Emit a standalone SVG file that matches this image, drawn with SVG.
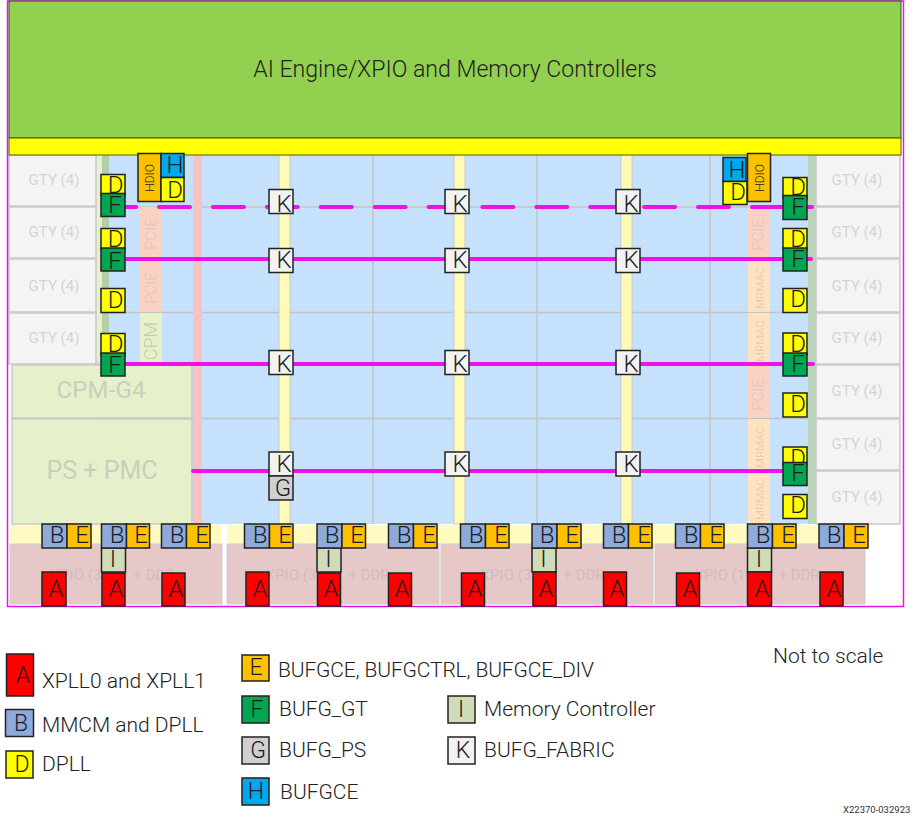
<svg xmlns="http://www.w3.org/2000/svg" width="923" height="822" viewBox="0 0 923 822">
<style>
text{font-family:Roboto,"Liberation Sans",sans-serif}
.n{stroke:#222;stroke-width:1.5}
.l{font-size:24px;font-weight:300;fill:#1c1c1c;text-anchor:middle}
.m{font-size:23px;font-weight:300;fill:#1c1c1c;text-anchor:middle}
.lg{font-size:21px;font-weight:300;fill:#222}
.a{fill:#f00}.b{fill:#8eaadb}.d{fill:#ff0}.e{fill:#ffc000}.f{fill:#00a651}.g{fill:#d0d0d0}.h{fill:#00a8f0}.i{fill:#d0dcb8}.k{fill:#f2f2f2}
.gty{fill:#f4f4f4;stroke:#c9c9c9;stroke-width:1.5}
.gt{font-size:15px;fill:#d4d4d4;text-anchor:middle}
.wire{stroke:#f010e8;stroke-width:4;fill:none;stroke-linecap:round}
.col{fill:#fffbb5;stroke:#c9c9c9}
.pc{fill:#e3c4b8;font-size:15px;text-anchor:middle;font-weight:300}
.mr{fill:#dfcaaa;font-size:11.500px;text-anchor:middle;font-weight:300}
.hd{font-size:12px;font-weight:300;fill:#222;text-anchor:middle}
.xp{font-size:15px;fill:#d6baba;text-anchor:middle}
</style>
<rect width="923" height="822" fill="#fff"/>
<g id="fabric">
<rect x="96" y="155" width="720" height="369" fill="#c5e1fb"/>
<g stroke="#c3c3c3" stroke-width="1.500" fill="none">
<path d="M96 207H816M96 259H816M96 312.500H816M96 364.500H816M192 418.500H816M192 470.500H816"/>
<path d="M373 155V524M537 155V524M710 155V524"/>
</g>
<rect class="col" x="279" y="155" width="11" height="369"/>
<rect class="col" x="454" y="155" width="11" height="369"/>
<rect class="col" x="621" y="155" width="11" height="369"/>
<rect x="193" y="155" width="9" height="369" fill="#f7c2c2"/>
<rect x="96" y="155" width="6" height="206" fill="#e6f1cb"/>
<rect x="102" y="155" width="7" height="206" fill="#b5ceaa"/>
<rect x="808" y="155" width="8" height="369" fill="#bcd4bc"/>
<rect x="140" y="207" width="22" height="52" fill="#fad2c4"/>
<rect x="140" y="260" width="22" height="52" fill="#fad2c4"/>
<rect x="140" y="313" width="22" height="52" fill="#e6f1cb"/>
<rect x="748" y="207" width="22" height="52" fill="#fad2c4"/>
<rect x="748" y="260" width="22" height="52" fill="#fde3c0"/>
<rect x="748" y="313" width="22" height="51" fill="#fde3c0"/>
<rect x="748" y="365" width="22" height="53" fill="#fad2c4"/>
<rect x="748" y="419" width="22" height="51" fill="#fde3c0"/>
<rect x="748" y="471" width="22" height="53" fill="#fde3c0"/>
<text class="pc" transform="translate(156 234) rotate(-90)">PCIE</text>
<text class="pc" transform="translate(156 288) rotate(-90)">PCIE</text>
<text class="pc" transform="translate(157 341) rotate(-90)" style="font-size:18px;fill:#c2cfa8">CPM</text>
<text class="pc" transform="translate(763 235) rotate(-90)">PCIE</text>
<text class="mr" transform="translate(764 288) rotate(-90)">MRMAC</text>
<text class="mr" transform="translate(764 341) rotate(-90)">MRMAC</text>
<text class="pc" transform="translate(763 395) rotate(-90)">PCIE</text>
<text class="mr" transform="translate(764 447) rotate(-90)">MRMAC</text>
<text class="mr" transform="translate(764 499) rotate(-90)">MRMAC</text>
</g>
<g id="gty-left">
<rect class="gty" x="9" y="155" width="87" height="51"/><text class="gt" x="54" y="185">GTY (4)</text>
<rect class="gty" x="9" y="207" width="87" height="51"/><text class="gt" x="54" y="237">GTY (4)</text>
<rect class="gty" x="9" y="259" width="87" height="53"/><text class="gt" x="54" y="291">GTY (4)</text>
<rect class="gty" x="9" y="313" width="87" height="51"/><text class="gt" x="54" y="343">GTY (4)</text>
</g>
<g id="gty-right">
<rect class="gty" x="816" y="155" width="84" height="51"/><text class="gt" x="857" y="185">GTY (4)</text>
<rect class="gty" x="816" y="207" width="84" height="51"/><text class="gt" x="857" y="237">GTY (4)</text>
<rect class="gty" x="816" y="259" width="84" height="53"/><text class="gt" x="857" y="291">GTY (4)</text>
<rect class="gty" x="816" y="313" width="84" height="51"/><text class="gt" x="857" y="343">GTY (4)</text>
<rect class="gty" x="816" y="365" width="84" height="53"/><text class="gt" x="857" y="396">GTY (4)</text>
<rect class="gty" x="816" y="419" width="84" height="51"/><text class="gt" x="857" y="449">GTY (4)</text>
<rect class="gty" x="816" y="471" width="84" height="53"/><text class="gt" x="857" y="502">GTY (4)</text>
</g>
<g id="ps">
<rect x="12" y="365" width="180" height="53" fill="#e6f1cb" stroke="#c9c9c9" stroke-width="1.500"/>
<rect x="12" y="419" width="180" height="105" fill="#e6f1cb" stroke="#c9c9c9" stroke-width="1.500"/>
<text x="101" y="398" font-size="24" fill="#c9cfbd" text-anchor="middle" textLength="89">CPM-G4</text>
<text x="102" y="479" font-size="25" fill="#c9cfbd" text-anchor="middle" textLength="111">PS + PMC</text>
</g>
<g id="xpio">
<rect x="10" y="525" width="211" height="19" fill="#fffbc0"/>
<rect x="227" y="525" width="598" height="19" fill="#fffbc0"/>
<g fill="#e6c8c8" stroke="#d0d0d0">
<rect x="10" y="544" width="212" height="60"/>
<rect x="227" y="544" width="212" height="60"/>
<rect x="441" y="544" width="212" height="60"/>
<rect x="655" y="544" width="210" height="60"/>
</g>
<text class="xp" x="76" y="580">XPIO (3</text><text class="xp" x="154" y="580">+ DDR</text>
<text class="xp" x="291" y="580">XPIO (3</text><text class="xp" x="369" y="580">+ DDR</text>
<text class="xp" x="506" y="580">XPIO (3</text><text class="xp" x="584" y="580">+ DDR</text>
<text class="xp" x="720" y="580">XPIO (1</text><text class="xp" x="799" y="580">+ DDR</text>
</g>
<g id="frame">
<rect x="7.500" y="1" width="896" height="605.500" fill="none" stroke="#f010e8" stroke-width="1.500"/>
<rect x="9" y="1" width="892" height="137" fill="#92d050" stroke="#3a4a20" stroke-width="1"/>
<rect x="9" y="138" width="892" height="17" fill="#ff0" stroke="#5a5a10" stroke-width="1"/>
<text x="455" y="77" font-size="23.100" font-weight="300" fill="#222" text-anchor="middle">AI Engine/XPIO and Memory Controllers</text>
</g>
<g id="connectors">
<path class="wire" d="M125 207H812" stroke-dasharray="31 22.900" stroke-dashoffset="19.900"/>
<path class="wire" d="M125 259H811"/>
<path class="wire" d="M125 364H813"/>
<path class="wire" d="M193 471H790"/>
</g>
<g id="hdio-left">
<rect class="n e" x="138" y="153.500" width="23" height="48"/>
<text class="hd" transform="translate(153.500 178) rotate(-90)">HDIO</text>
<rect class="n h" x="161" y="153.500" width="23" height="24"/><text class="l" x="175" y="173">H</text>
<rect class="n d" x="161" y="177.500" width="23" height="24"/><text class="l" x="175" y="198">D</text>
</g>
<g id="hdio-right">
<rect class="n h" x="723" y="157.500" width="23" height="24"/><text class="l" x="737" y="178">H</text>
<rect class="n d" x="723" y="181.500" width="24" height="23"/><text class="l" x="738" y="200">D</text>
<rect class="n e" x="747.500" y="153.500" width="23" height="48"/>
<text class="hd" transform="translate(764 178) rotate(-90)">HDIO</text>
</g>
<g id="left-clocks">
<rect class="n d" x="101" y="174.500" width="24" height="21"/><text class="l" x="115.500" y="193">D</text>
<rect class="n f" x="101" y="193.500" width="24" height="23"/><text class="l" x="115" y="213">F</text>
<rect class="n d" x="101" y="228.500" width="24" height="21"/><text class="l" x="115.500" y="247">D</text>
<rect class="n f" x="101" y="248" width="24" height="23"/><text class="l" x="115" y="269">F</text>
<rect class="n d" x="101" y="288.500" width="24" height="24"/><text class="l" x="115.500" y="308">D</text>
<rect class="n d" x="101" y="333.500" width="24" height="22"/><text class="l" x="115.500" y="352">D</text>
<rect class="n f" x="101" y="353" width="24" height="23"/><text class="l" x="115" y="373">F</text>
</g>
<g id="right-clocks">
<rect class="n d" x="783" y="177.500" width="24" height="21"/><text class="l" x="798" y="195">D</text>
<rect class="n f" x="783" y="195.500" width="24" height="24"/><text class="l" x="798" y="215">F</text>
<rect class="n d" x="783" y="228.500" width="24" height="21"/><text class="l" x="798" y="247">D</text>
<rect class="n f" x="783" y="248" width="24" height="23"/><text class="l" x="798" y="267">F</text>
<rect class="n d" x="783" y="288.500" width="24" height="24"/><text class="l" x="798" y="307">D</text>
<rect class="n d" x="783" y="333" width="24" height="22"/><text class="l" x="798" y="352">D</text>
<rect class="n f" x="783" y="353" width="24" height="23"/><text class="l" x="798" y="372">F</text>
<rect class="n d" x="783" y="393" width="24" height="24"/><text class="l" x="798" y="412">D</text>
<rect class="n d" x="783" y="447" width="24" height="18"/><text class="l" x="798" y="466">D</text>
<rect class="n f" x="783" y="462.500" width="24" height="23"/><text class="l" x="798" y="481">F</text>
<rect class="n d" x="783" y="494.500" width="24" height="24"/><text class="l" x="798" y="513">D</text>
</g>
<g id="fabric-clocks">
<rect class="n k" x="269" y="189.500" width="24" height="24"/><text class="l" x="284" y="212">K</text>
<rect class="n k" x="445" y="189.500" width="24" height="24"/><text class="l" x="460" y="212">K</text>
<rect class="n k" x="616" y="189.500" width="24" height="24"/><text class="l" x="631" y="212">K</text>
<rect class="n k" x="269" y="248.500" width="24" height="24"/><text class="l" x="284" y="268">K</text>
<rect class="n k" x="445" y="248.500" width="24" height="24"/><text class="l" x="460" y="268">K</text>
<rect class="n k" x="616" y="248.500" width="24" height="24"/><text class="l" x="631" y="268">K</text>
<rect class="n k" x="269" y="350.500" width="24" height="24"/><text class="l" x="284" y="372">K</text>
<rect class="n k" x="445" y="350.500" width="24" height="24"/><text class="l" x="460" y="372">K</text>
<rect class="n k" x="616" y="350.500" width="24" height="24"/><text class="l" x="631" y="372">K</text>
<rect class="n k" x="269" y="452" width="24" height="24"/><text class="l" x="284" y="472">K</text>
<rect class="n g" x="269" y="476" width="24" height="24"/><text class="l" x="283" y="496">G</text>
<rect class="n k" x="445" y="452" width="24" height="24"/><text class="l" x="460" y="472">K</text>
<rect class="n k" x="616" y="452" width="24" height="24"/><text class="l" x="631" y="472">K</text>
</g>
<g id="bottom-clocks">
<rect class="n i" x="101.500" y="548" width="24" height="24"/><text class="l" x="113" y="567">I</text>
<rect class="n i" x="317" y="548" width="24" height="24"/><text class="l" x="328.500" y="567">I</text>
<rect class="n i" x="532" y="548" width="24" height="24"/><text class="l" x="543.500" y="567">I</text>
<rect class="n i" x="747.500" y="548" width="24" height="24"/><text class="l" x="759" y="567">I</text>
<rect class="n a" x="42" y="572" width="24" height="34"/><text class="l" x="56" y="597">A</text>
<rect class="n a" x="102" y="573" width="23" height="33"/><text class="l" x="116" y="597">A</text>
<rect class="n a" x="162" y="573" width="23" height="33"/><text class="l" x="176" y="597">A</text>
<rect class="n a" x="246" y="572" width="23" height="34"/><text class="l" x="260" y="597">A</text>
<rect class="n a" x="317.500" y="573" width="23" height="33"/><text class="l" x="331" y="597">A</text>
<rect class="n a" x="388.500" y="573" width="23" height="33"/><text class="l" x="402" y="597">A</text>
<rect class="n a" x="461.500" y="573" width="23" height="33"/><text class="l" x="475" y="597">A</text>
<rect class="n a" x="533" y="572" width="23" height="34"/><text class="l" x="546" y="597">A</text>
<rect class="n a" x="603.500" y="572" width="23" height="34"/><text class="l" x="617" y="597">A</text>
<rect class="n a" x="676.500" y="573" width="23" height="33"/><text class="l" x="690" y="597">A</text>
<rect class="n a" x="747.500" y="572" width="24" height="34"/><text class="l" x="762" y="597">A</text>
<rect class="n a" x="820" y="572" width="23" height="34"/><text class="l" x="834" y="597">A</text>
<g id="be-pairs">
<rect class="n b" x="42" y="524" width="25" height="24"/><text class="l" x="57" y="543">B</text><rect class="n e" x="67" y="524" width="24" height="24"/><text class="l" x="82" y="543">E</text>
<rect class="n b" x="101.500" y="524" width="25" height="24"/><text class="l" x="117" y="543">B</text><rect class="n e" x="126.500" y="524" width="23" height="24"/><text class="l" x="141" y="543">E</text>
<rect class="n b" x="161.500" y="524" width="25" height="24"/><text class="l" x="177" y="543">B</text><rect class="n e" x="186.500" y="524" width="23.500" height="24"/><text class="l" x="202" y="543">E</text>
<rect class="n b" x="244.500" y="524" width="25" height="24"/><text class="l" x="260" y="543">B</text><rect class="n e" x="269.500" y="524" width="23.500" height="24"/><text class="l" x="285" y="543">E</text>
<rect class="n b" x="317" y="524" width="25" height="24"/><text class="l" x="332" y="543">B</text><rect class="n e" x="342" y="524" width="23.500" height="24"/><text class="l" x="357" y="543">E</text>
<rect class="n b" x="388.500" y="524" width="25" height="24"/><text class="l" x="404" y="543">B</text><rect class="n e" x="413.500" y="524" width="23.500" height="24"/><text class="l" x="429" y="543">E</text>
<rect class="n b" x="460.500" y="524" width="25" height="24"/><text class="l" x="476" y="543">B</text><rect class="n e" x="485.500" y="524" width="23.500" height="24"/><text class="l" x="501" y="543">E</text>
<rect class="n b" x="532" y="524" width="25" height="24"/><text class="l" x="547" y="543">B</text><rect class="n e" x="557" y="524" width="24" height="24"/><text class="l" x="572" y="543">E</text>
<rect class="n b" x="603.500" y="524" width="25" height="24"/><text class="l" x="619" y="543">B</text><rect class="n e" x="628.500" y="524" width="23.500" height="24"/><text class="l" x="644" y="543">E</text>
<rect class="n b" x="675.500" y="524" width="25" height="24"/><text class="l" x="691" y="543">B</text><rect class="n e" x="700.500" y="524" width="23.500" height="24"/><text class="l" x="716" y="543">E</text>
<rect class="n b" x="747.500" y="524" width="25" height="24"/><text class="l" x="763" y="543">B</text><rect class="n e" x="772.500" y="524" width="23.500" height="24"/><text class="l" x="788" y="543">E</text>
<rect class="n b" x="819" y="524" width="25" height="24"/><text class="l" x="834" y="543">B</text><rect class="n e" x="844" y="524" width="24" height="24"/><text class="l" x="859" y="543">E</text>
</g>
</g>
<g id="legend">
<g id="legend-a"><rect class="n a" x="6.500" y="654" width="27" height="42"/><text class="m" x="23" y="683">A</text><text class="lg" x="42" y="688">XPLL0 and XPLL1</text></g>
<g id="legend-b"><rect class="n b" x="5.500" y="709.500" width="28" height="27"/><text class="m" x="21" y="731">B</text><text class="lg" x="42" y="732">MMCM and DPLL</text></g>
<g id="legend-d"><rect class="n d" x="6" y="751" width="27" height="27"/><text class="m" x="22" y="772">D</text><text class="lg" x="42" y="771">DPLL</text></g>
<g id="legend-e"><rect class="n e" x="242" y="655" width="27" height="26"/><text class="m" x="256" y="675">E</text><text class="lg" x="278" y="677" textLength="316">BUFGCE, BUFGCTRL, BUFGCE_DIV</text></g>
<g id="legend-f"><rect class="n f" x="242" y="696" width="27" height="27"/><text class="m" x="257" y="717">F</text><text class="lg" x="279" y="716">BUFG_GT</text></g>
<g id="legend-g"><rect class="n g" x="242" y="737" width="27" height="27"/><text class="m" x="258" y="758">G</text><text class="lg" x="279" y="757">BUFG_PS</text></g>
<g id="legend-h"><rect class="n h" x="242" y="778" width="27" height="27"/><text class="m" x="256" y="799">H</text><text class="lg" x="280" y="799">BUFGCE</text></g>
<g id="legend-i"><rect class="n i" x="448" y="696" width="27" height="27"/><text class="m" x="461" y="717">I</text><text class="lg" x="484" y="716">Memory Controller</text></g>
<g id="legend-k"><rect class="n k" x="448" y="737" width="27" height="27"/><text class="m" x="463" y="758">K</text><text class="lg" x="484" y="757">BUFG_FABRIC</text></g>
<text class="lg" x="773" y="663">Not to scale</text>
<text x="843" y="813" font-size="9.500" fill="#333">X22370-032923</text>
</g>
</svg>
